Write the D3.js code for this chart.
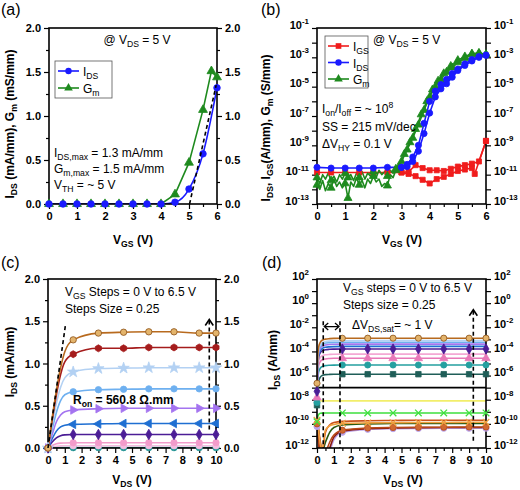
<!DOCTYPE html>
<html>
<head>
<meta charset="utf-8">
<title>GaN transistor transfer and output curves</title>
<script src="https://cdn.jsdelivr.net/npm/d3@7"></script>
<style>
body{margin:0;background:#fff;}
svg{font-family:"Liberation Sans",Arial,sans-serif;}
.tick text{font-size:11px;font-weight:bold;fill:#000;}
.tick line{stroke:#000;stroke-width:1.2;}
.frame{fill:none;stroke:#000;stroke-width:1.6;}
.note{font-size:12px;}
.bold{font-size:12px;font-weight:bold;}
.title{font-size:12px;font-weight:bold;}
.plabel{font-size:16px;}
</style>
</head>
<body>
<script>
// ---------- (a) transfer, linear ----------
var vgsA   = [0,0.5,1,1.5,2,2.5,3,3.5,4,4.5,5,5.5,6];
var idsA   = [0,0,0,0,0,0,0,0,0,0.02,0.17,0.57,1.32];
var vgsGmA = [0,0.5,1,1.5,2,2.5,3,3.5,4,4.5,5,5.5,5.8,6];
var gmA    = [0,0,0,0,0,0,0,0,0,0.11,0.47,1.07,1.51,1.44];
var fitA_x = [5.02,5.97], fitA_y = [0,1.35];

// ---------- (b) transfer, log (values as log10) ----------
var idsX1 = [0,0.5,1,1.5,2,2.5,3,3.2,3.4,3.6,3.8,4,4.2,4.4,4.6,4.8,5,5.25,5.5,5.75,6];
var idsL1 = [-10.5,-10.55,-10.55,-10.55,-10.55,-10.5,-10.5,-10.3,-9.8,-9.0,-7.5,-6.0,-5.3,-4.85,-4.5,-4.1,-3.8,-3.45,-3.15,-2.95,-2.85];
var idsX2 = [3,3.2,3.4,3.6,3.8,4,4.2,4.4,4.6,4.8,5,5.25,5.5,5.75,6];
var idsL2 = [-10.5,-10.45,-10.1,-9.4,-8.2,-6.8,-5.7,-5.15,-4.8,-4.35,-3.9,-3.55,-3.25,-3.0,-2.85];
var gmX1 = [0,0.1,0.2,0.3,0.4,0.5,0.6,0.7,0.8,0.9,1,1.1,1.2,1.3,1.4,1.5,1.6,1.7,1.8,1.9,2,2.1,2.2,2.3,2.4,2.5,2.6,2.7,2.8,3,3.2,3.4,3.6,3.8,4,4.2,4.4,4.6,4.8,5,5.25,5.5,5.75,6];
var gmL1 = [-11.2,-11.6,-11.0,-11.3,-10.9,-11.4,-11.1,-11.5,-11.0,-11.3,-10.9,-11.2,-11.0,-11.4,-10.9,-11.2,-10.8,-11.3,-10.9,-11.1,-10.8,-11.2,-10.7,-11.0,-10.8,-11.1,-10.7,-10.9,-10.6,-10.1,-9.3,-8.5,-7.6,-6.6,-5.7,-5.0,-4.5,-4.0,-3.7,-3.35,-3.05,-2.8,-2.75,-2.8];
var gmX2 = [0,0.1,0.2,0.3,0.4,0.5,0.6,0.7,0.8,0.9,1,1.1,1.2,1.3,1.4,1.5,1.6,1.7,1.8,1.9,2,2.1,2.2,2.3,2.4,2.5,2.6,2.7,2.8,2.9,3.1,3.3,3.5,3.7,3.9,4.1,4.3,4.5,4.75,5,5.25,5.5,5.75,6];
var gmL2 = [-11.7,-12.0,-11.4,-12.1,-11.6,-11.9,-11.3,-11.8,-11.5,-11.9,-11.6,-12.6,-11.5,-11.8,-11.2,-11.7,-11.4,-11.9,-11.3,-11.6,-11.1,-11.5,-11.3,-11.8,-11.6,-11.75,-11.0,-11.2,-10.7,-10.5,-9.6,-8.8,-7.9,-6.9,-6.0,-5.2,-4.6,-4.1,-3.6,-3.2,-2.95,-2.75,-2.7,-2.8];
var igsX1 = [0,0.5,1,1.5,2,2.5,3,3.25,3.5,3.75,4,4.25,4.5,4.75,5,5.25,5.5,5.75,6];
var igsL1 = [-10.85,-10.85,-10.85,-10.85,-10.85,-10.85,-10.85,-10.8,-10.35,-10.55,-10.7,-10.7,-10.75,-10.6,-10.45,-10.35,-10.25,-10.1,-8.7];
var igsX2 = [3,3.25,3.5,3.75,4,4.25,4.5,4.75,5,5.25,5.5,5.6,6];
var igsL2 = [-10.85,-10.95,-11.1,-11.35,-11.6,-11.3,-11.15,-10.95,-10.75,-10.65,-10.55,-10.95,-8.7];

// ---------- (c) output, linear (mA/mm) ----------
var vdsC  = [0,0.25,0.5,0.75,1,1.5,3,4.5,6,7.5,9,10];
var markC = [0,1.5,3,4.5,6,7.5,9,10];
var outC = [
  {c:"#b86a1e", f:"#e3b46c", s:"#8a5018", m:"circle", v:[0,0.36,0.68,0.95,1.14,1.28,1.36,1.37,1.375,1.375,1.36,1.36]},
  {c:"#a51c1c", f:"#a51c1c", s:"#a51c1c", m:"hex",    v:[0,0.33,0.63,0.87,1.02,1.11,1.18,1.18,1.19,1.19,1.19,1.19]},
  {c:"#b3d1f3", f:"#b3d1f3", s:"#b3d1f3", m:"star",   v:[0,0.28,0.53,0.72,0.83,0.90,0.94,0.945,0.95,0.95,0.95,0.95]},
  {c:"#6eb0f0", f:"#6eb0f0", s:"#6eb0f0", m:"circle", v:[0,0.22,0.42,0.56,0.63,0.665,0.69,0.695,0.70,0.70,0.70,0.70]},
  {c:"#a474f0", f:"#a474f0", s:"#a474f0", m:"right",  v:[0,0.16,0.31,0.39,0.43,0.45,0.465,0.47,0.47,0.47,0.47,0.47]},
  {c:"#1f6fd2", f:"#1f6fd2", s:"#1f6fd2", m:"left",   v:[0,0.11,0.2,0.25,0.27,0.28,0.285,0.29,0.29,0.29,0.29,0.29]},
  {c:"#4b1d96", f:"#4b1d96", s:"#4b1d96", m:"diamond",v:[0,0.07,0.12,0.145,0.155,0.16,0.16,0.16,0.16,0.16,0.16,0.16]},
  {c:"#f29ccb", f:"#f29ccb", s:"#f29ccb", m:"circle", v:[0,0.03,0.05,0.058,0.06,0.062,0.063,0.063,0.063,0.063,0.063,0.063]},
  {c:"#f3bde0", f:"#f3bde0", s:"#f3bde0", m:"circle", v:[0,0.012,0.02,0.025,0.026,0.027,0.027,0.027,0.027,0.027,0.027,0.027]},
  {c:"#2a9a9a", f:"#2a9a9a", s:"#2a9a9a", m:"circle", v:[0,0.002,0.003,0.004,0.004,0.004,0.004,0.004,0.004,0.004,0.004,0.004]}
];
var ronC_x = [0,1.05], ronC_y = [0,1.47];

// ---------- (d) output, log (A/mm) ----------
var vdsD  = [0,0.05,0.1,0.2,0.3,0.5,0.75,1,1.5,3,4.5,6,7.5,9,10];
var markD = [0,1.5,3,4.5,6,7.5,9,10];
var outD = [
  {c:"#2a5a10", m:null,     v:[2e-10,8e-11,2e-11,2e-12,5e-13,3e-12,2e-11,5e-11,8e-11,1e-10,1.1e-10,1.1e-10,1.1e-10,1.1e-10,1.1e-10]},
  {c:"#b8a0e8", m:"circle", v:[6e-11,1e-11,1e-12,1e-13,1e-13,1e-13,5e-13,5e-12,2e-11,3.5e-11,4e-11,4.2e-11,4.3e-11,4.3e-11,4.3e-11]},
  {c:"#8a1a10", m:null,     v:[8e-11,1.5e-11,2e-12,3e-13,1e-13,2e-13,1e-12,8e-12,2.5e-11,4e-11,4.5e-11,4.8e-11,5e-11,5e-11,5e-11]},
  {c:"#b84818", m:"circle", f:"#d06a30", v:[1e-10,2e-11,3e-12,5e-13,2e-13,4e-13,3e-12,1.2e-11,3e-11,4.5e-11,5e-11,5.2e-11,5.3e-11,5.5e-11,5.5e-11]},
  {c:"#c8501a", m:null,     v:[4e-10,1e-10,3e-11,3e-12,5e-13,2e-11,8e-11,1.3e-10,1.6e-10,1.8e-10,1.9e-10,2e-10,2e-10,2e-10,2e-10]},
  {c:"#f0a040", m:"x",      v:[2e-10,8e-11,2e-11,2e-12,8e-13,3e-11,7e-11,9e-11,1.1e-10,1.2e-10,1.25e-10,1.3e-10,1.3e-10,1.35e-10,1.35e-10]},
  {c:"#3ee03e", m:"x",      v:[1.5e-10,4e-10,6e-10,7.5e-10,7.8e-10,8e-10,8e-10,8e-10,8e-10,8e-10,8e-10,8e-10,8e-10,8e-10,8e-10]},
  {c:"#f2ee6a", m:null,     v:[8e-9,8e-9,8e-9,8e-9,8e-9,8e-9,8e-9,8e-9,8e-9,8e-9,8e-9,8e-9,8e-9,8e-9,8e-9]},
  {c:"#000000", m:null,     v:[1e-7,1e-7,1e-7,1e-7,1e-7,1e-7,1e-7,1e-7,1e-7,1e-7,1e-7,1e-7,1e-7,1e-7,1e-7]},
  {c:"#1f5e58", m:"square", v:[3.5e-9,8e-8,3.5e-7,7.5e-7,1e-6,1.2e-6,1.25e-6,1.28e-6,1.3e-6,1.3e-6,1.3e-6,1.3e-6,1.3e-6,1.3e-6,1.3e-6]},
  {c:"#24a0a0", m:"circle", v:[6e-9,4e-7,2e-6,4.2e-6,5.5e-6,6.7e-6,7.2e-6,7.4e-6,7.5e-6,7.5e-6,7.5e-6,7.5e-6,7.5e-6,7.5e-6,7.5e-6]},
  {c:"#e878b8", m:"tri",    v:[1.5e-8,1.5e-6,7e-6,1.5e-5,2e-5,2.4e-5,2.6e-5,2.7e-5,2.7e-5,2.7e-5,2.7e-5,2.7e-5,2.7e-5,2.7e-5,2.7e-5]},
  {c:"#f4a8d4", m:null,     v:[2e-8,3e-6,1.5e-5,3.2e-5,4.3e-5,5.3e-5,5.7e-5,5.9e-5,6e-5,6e-5,6e-5,6e-5,6e-5,6e-5,6e-5]},
  {c:"#4b1d96", m:"diamond",v:[5e-8,7e-6,3.5e-5,8e-5,1.1e-4,1.4e-4,1.5e-4,1.55e-4,1.6e-4,1.6e-4,1.6e-4,1.6e-4,1.6e-4,1.6e-4,1.6e-4]},
  {c:"#1f6fd2", m:null,     v:[6e-8,1e-5,5e-5,1.2e-4,1.7e-4,2.2e-4,2.4e-4,2.5e-4,2.6e-4,2.6e-4,2.6e-4,2.6e-4,2.6e-4,2.6e-4,2.6e-4]},
  {c:"#a474f0", m:null,     v:[7e-8,1.5e-5,8e-5,1.8e-4,2.7e-4,3.4e-4,3.8e-4,3.9e-4,4e-4,4e-4,4e-4,4e-4,4e-4,4e-4,4e-4]},
  {c:"#6eb0f0", m:null,     v:[8e-8,2e-5,1.1e-4,2.6e-4,3.8e-4,4.9e-4,5.4e-4,5.6e-4,5.7e-4,5.8e-4,5.8e-4,5.8e-4,5.8e-4,5.8e-4,5.8e-4]},
  {c:"#b3d1f3", m:null,     v:[1.1e-7,3e-5,1.5e-4,3.5e-4,5e-4,6.5e-4,7.2e-4,7.5e-4,7.7e-4,7.8e-4,7.8e-4,7.8e-4,7.8e-4,7.8e-4,7.8e-4]},
  {c:"#b86a1e", m:"circle", f:"#e3b46c", s:"#8a5018", v:[2.3e-7,5e-5,2.5e-4,6e-4,8.5e-4,1.05e-3,1.15e-3,1.2e-3,1.23e-3,1.25e-3,1.25e-3,1.25e-3,1.25e-3,1.25e-3,1.25e-3]}
];

var svg = d3.select("body").append("svg").attr("width", 520).attr("height", 490);

// text with _{sub} and ^{sup}
function rich(t, s, fs) {
  t.text(null);
  var re = /([_^])\{([^}]*)\}|([^_^]+)/g, m, off = 0;
  while ((m = re.exec(s))) {
    var tgt = 0, sz = fs, txt = m[3];
    if (!m[3]) { txt = m[2]; sz = fs * 0.72; tgt = m[1] == "_" ? fs * 0.25 : -fs * 0.42; }
    t.append("tspan").attr("dy", tgt - off).attr("font-size", sz).text(txt);
    off = tgt;
  }
  return t;
}
function note(x, y, s, cls, fs, anchor) {
  return rich(svg.append("text").attr("class", cls || "note").attr("x", x).attr("y", y)
    .attr("text-anchor", anchor || "start"), s, fs || 12);
}
function vtitle(x, y, s) {
  return rich(svg.append("text").attr("class", "title").attr("text-anchor", "middle")
    .attr("transform", "translate(" + x + "," + y + ") rotate(-90)"), s, 12);
}

function symPath(name, size) {
  if (name == "hex") {
    var r = Math.sqrt(size / 2.6);
    return d3.line()(d3.range(6).map(function(i){ var a = i * Math.PI / 3 + Math.PI / 6; return [r * Math.cos(a), r * Math.sin(a)]; })) + "Z";
  }
  var t = {circle:d3.symbolCircle, square:d3.symbolSquare, tri:d3.symbolTriangle, left:d3.symbolTriangle,
           right:d3.symbolTriangle, diamond:d3.symbolDiamond, star:d3.symbolStar, x:d3.symbolTimes}[name];
  return d3.symbol().type(t).size(size)();
}

function panel(p) {
  var x = d3.scaleLinear().domain(p.xDom).range([p.l, p.r]);
  var y = (p.log ? d3.scaleLog() : d3.scaleLinear()).domain(p.yDom).range([p.b, p.t]);
  var g = svg.append("g");
  g.append("clipPath").attr("id", "clip" + p.name).append("rect")
    .attr("x", p.l).attr("y", p.t).attr("width", p.r - p.l).attr("height", p.b - p.t);
  var plot = g.append("g").attr("clip-path", "url(#clip" + p.name + ")");

  function ax(axis, tr, vals, size, fmt) {
    var a = g.append("g").attr("transform", tr)
      .call(axis.tickValues(vals).tickSize(size).tickSizeOuter(0).tickPadding(3).tickFormat(fmt));
    a.select(".domain").remove();
    return a;
  }
  var blank = function(){ return ""; };
  ax(d3.axisBottom(x), "translate(0," + p.b + ")", p.xTicks, 5, d3.format("d"));
  ax(d3.axisBottom(x), "translate(0," + p.b + ")", p.xMinor, 3, blank);
  var yfmt = p.log ? blank : d3.format(".1f");
  var L = ax(d3.axisLeft(y), "translate(" + p.l + ",0)", p.yTicks, 5, yfmt);
  var R = ax(d3.axisRight(y), "translate(" + p.r + ",0)", p.yTicks, 5, yfmt);
  if (p.yMinor) {
    ax(d3.axisLeft(y), "translate(" + p.l + ",0)", p.yMinor, 3, blank);
    ax(d3.axisRight(y), "translate(" + p.r + ",0)", p.yMinor, 3, blank);
  }
  if (p.log) {
    [L, R].forEach(function(a){
      a.selectAll(".tick text").each(function(d){
        var e = Math.round(Math.log10(d));
        if (p.yLabels.indexOf(e) >= 0) rich(d3.select(this), "10^{" + e + "}", 11);
      });
    });
  }
  g.append("rect").attr("class", "frame").attr("x", p.l).attr("y", p.t)
    .attr("width", p.r - p.l).attr("height", p.b - p.t);
  return {x:x, y:y, plot:plot, top:g.append("g"), p:p};
}

function series(P, xs, ys, st) {
  var pts = xs.map(function(v, i){ return [v, ys[i]]; });
  P.plot.append("path").datum(pts).attr("fill", "none").attr("stroke", st.c)
    .attr("stroke-width", st.w || 1.6).attr("stroke-linejoin", "round")
    .attr("d", d3.line().x(function(d){ return P.x(d[0]); }).y(function(d){ return P.y(d[1]); })
      .curve(st.curve || d3.curveLinear));
  if (!st.m) return;
  var dom = P.y.domain();
  var mp = pts.filter(function(d){
    return (!st.marks || st.marks.indexOf(d[0]) >= 0) && d[1] >= Math.min(dom[0], dom[1]) && d[1] <= Math.max(dom[0], dom[1]);
  });
  var rot = st.m == "right" ? 90 : st.m == "left" ? -90 : 0;
  var isX = st.m == "x";
  P.top.selectAll(null).data(mp).enter().append("path")
    .attr("transform", function(d){ return "translate(" + P.x(d[0]) + "," + P.y(d[1]) + ") rotate(" + rot + ")"; })
    .attr("d", symPath(st.m, st.size || 30))
    .attr("fill", isX ? "none" : (st.f || st.c))
    .attr("stroke", st.s || st.c).attr("stroke-width", isX ? 1.3 : 0.8);
}

function dashed(P, x1, y1, x2, y2, head) {
  P.top.append("line").attr("x1", P.x(x1)).attr("y1", P.y(y1)).attr("x2", P.x(x2)).attr("y2", P.y(y2))
    .attr("stroke", "#000").attr("stroke-width", 1.6).attr("stroke-dasharray", "4,3");
  if (head) P.top.append("path").attr("d", "M-4,6L0,0L4,6")
    .attr("transform", "translate(" + P.x(x2) + "," + P.y(y2) + ")")
    .attr("fill", "none").attr("stroke", "#000").attr("stroke-width", 1.6);
}

function legend(P, x, y, w, h, items) {
  P.top.append("rect").attr("x", x).attr("y", y).attr("width", w).attr("height", h)
    .attr("fill", "#fff").attr("stroke", "#555").attr("stroke-width", 0.8);
  items.forEach(function(it, i){
    var yy = y + 10 + i * it.dy;
    P.top.append("line").attr("x1", x + 3).attr("x2", x + 24).attr("y1", yy).attr("y2", yy)
      .attr("stroke", it.c).attr("stroke-width", 1.6);
    P.top.append("path").attr("transform", "translate(" + (x + 13.5) + "," + yy + ")")
      .attr("d", symPath(it.m, 32)).attr("fill", it.c);
    rich(P.top.append("text").attr("class", "note").attr("x", x + 28).attr("y", yy + 5), it.t, 12);
  });
}

var pow10 = function(a){ return a.map(function(v){ return Math.pow(10, v); }); };
var decades = function(a, b){ return d3.range(a, b + 1).map(function(e){ return Math.pow(10, e); }); };

// ===== (a) =====
var A = panel({name:"a", l:49, r:217, t:28, b:204, xDom:[0,6], yDom:[0,2],
  xTicks:d3.range(0,7), xMinor:d3.range(0.5,6,1), yTicks:[0,0.5,1,1.5,2], yMinor:[0.25,0.75,1.25,1.75]});
series(A, vgsGmA, gmA, {c:"#1e8a1e", m:"tri", size:34});
series(A, vgsA, idsA, {c:"#1a1aff", m:"circle", size:34, curve:d3.curveMonotoneX});
dashed(A, fitA_x[0], fitA_y[0], fitA_x[1], fitA_y[1]);
legend(A, 55, 61, 57, 37, [{t:"I_{DS}", c:"#1a1aff", m:"circle", dy:17}, {t:"G_{m}", c:"#1e8a1e", m:"tri", dy:17}]);
note(137, 44, "@ V_{DS} = 5 V", "note", 12, "middle");
note(54, 157, "I_{DS,max} = 1.3 mA/mm");
note(54, 173, "G_{m,max} = 1.5 mA/mm");
note(54, 189, "V_{TH} = ~ 5 V");

// ===== (b) =====
var B = panel({name:"b", l:317, r:486, t:28, b:204, log:true, xDom:[0,6], yDom:[1e-13,1e-1],
  xTicks:d3.range(0,7), xMinor:d3.range(0.5,6,1), yTicks:decades(-13,-1), yLabels:[-1,-3,-5,-7,-9,-11,-13]});
series(B, igsX2, pow10(igsL2), {c:"#f01c1c", m:"square", size:26});
series(B, igsX1, pow10(igsL1), {c:"#f01c1c", m:"square", size:26});
var gmMark = function(xs){ return xs.filter(function(v){ return v >= 2.8 || Math.abs(v * 2 - Math.round(v * 2)) < 1e-6 || v == 1.1; }); };
series(B, gmX2, pow10(gmL2), {c:"#1e8a1e", m:"tri", size:28, marks:gmMark(gmX2)});
series(B, gmX1, pow10(gmL1), {c:"#1e8a1e", m:"tri", size:28, marks:gmMark(gmX1)});
series(B, idsX2, pow10(idsL2), {c:"#1a1aff", m:"circle", size:30});
series(B, idsX1, pow10(idsL1), {c:"#1a1aff", m:"circle", size:30});
legend(B, 325, 36, 43, 52, [{t:"I_{GS}", c:"#f01c1c", m:"square", dy:16.5}, {t:"I_{DS}", c:"#1a1aff", m:"circle", dy:16.5}, {t:"G_{m}", c:"#1e8a1e", m:"tri", dy:16.5}]);
note(373, 44, "@ V_{DS} = 5 V");
note(322, 113, "I_{on}/I_{off} = ~ 10^{8}");
note(322, 131, "SS = 215 mV/dec");
note(322, 148, "ΔV_{HY} = 0.1 V");

// ===== (c) =====
var C = panel({name:"c", l:48, r:216, t:279, b:448, xDom:[0,10], yDom:[0,2],
  xTicks:d3.range(0,11), xMinor:d3.range(0.5,10,1), yTicks:[0,0.5,1,1.5,2], yMinor:[0.25,0.75,1.25,1.75]});
outC.slice().reverse().forEach(function(s){
  series(C, vdsC, s.v, {c:s.c, f:s.f, s:s.s, m:s.m, marks:markC, size:s.m == "star" ? 40 : 32, curve:d3.curveMonotoneX});
});
dashed(C, ronC_x[0], ronC_y[0], ronC_x[1], ronC_y[1]);
dashed(C, 9.6, 0.22, 9.6, 1.52, true);
note(65, 296, "V_{GS} Steps = 0 V to 6.5 V");
note(65, 313, "Steps Size = 0.25");
note(73, 404, "R_{on} =  560.8 Ω.mm", "bold");

// ===== (d) =====
var D = panel({name:"d", l:317, r:486, t:279, b:448, log:true, xDom:[0,10], yDom:[1e-12,1e2],
  xTicks:d3.range(0,11), xMinor:d3.range(0.5,10,1), yTicks:decades(-12,2), yLabels:[2,0,-2,-4,-6,-8,-10,-12]});
outD.forEach(function(s){
  series(D, vdsD, s.v, {c:s.c, f:s.f, s:s.s, m:s.m, marks:markD, size:30, curve:d3.curveMonotoneX});
});
dashed(D, 0.37, 10 ** -1.5, 0.37, 1e-12);
dashed(D, 1.36, 10 ** -1.5, 1.36, 1e-12);
dashed(D, 9.25, 10 ** -11.4, 9.25, 10 ** -0.55, true);
var ya = D.y(10 ** -1.94);
D.top.append("path").attr("fill", "none").attr("stroke", "#000").attr("stroke-width", 1.3)
  .attr("d", "M" + (D.x(0.37) + 1) + "," + ya + "H" + (D.x(1.36) - 1) +
    "M" + (D.x(0.37) + 5) + "," + (ya - 3.5) + "L" + (D.x(0.37) + 1) + "," + ya + "L" + (D.x(0.37) + 5) + "," + (ya + 3.5) +
    "M" + (D.x(1.36) - 5) + "," + (ya - 3.5) + "L" + (D.x(1.36) - 1) + "," + ya + "L" + (D.x(1.36) - 5) + "," + (ya + 3.5));
note(343, 292, "V_{GS} steps = 0 V to 6.5 V");
note(343, 309, "Steps size = 0.25");
note(352, 329, "ΔV_{DS,sat}= ~ 1 V");

// axis titles and panel labels
note(133, 244, "V_{GS} (V)", "title", 12, "middle");
note(402, 244, "V_{GS} (V)", "title", 12, "middle");
note(132, 484, "V_{DS} (V)", "title", 12, "middle");
note(403, 484, "V_{DS} (V)", "title", 12, "middle");
vtitle(14, 124, "I_{DS} (mA/mm), G_{m} (mS/mm)");
vtitle(270, 128, "I_{DS}, I_{GS}(A/mm), G_{m} (S/mm)");
vtitle(14, 362, "I_{DS} (mA/mm)");
vtitle(277, 360, "I_{DS} (A/mm)");
note(1, 15, "(a)", "plabel", 16);
note(261, 15, "(b)", "plabel", 16);
note(1, 268, "(c)", "plabel", 16);
note(262, 268, "(d)", "plabel", 16);
</script>
</body>
</html>
